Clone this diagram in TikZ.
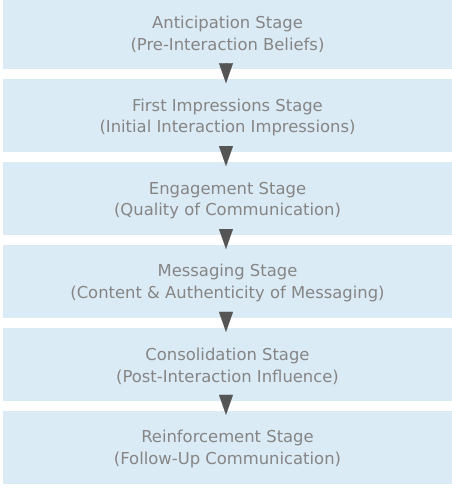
\documentclass[tikz,border=0pt]{standalone}
\usepackage{fontspec}
\setmainfont{DejaVu Sans}
\usetikzlibrary{positioning,arrows.meta}
\definecolor{stagefill}{HTML}{DAEBF6}
\definecolor{stagetext}{HTML}{858585}
\definecolor{arrowgray}{HTML}{555555}
\begin{document}
\begin{tikzpicture}[x=1pt,y=1pt,node distance=10pt,
		stage/.style={fill=stagefill, text=stagetext, minimum width=449pt, minimum height=72.5pt,
			inner sep=0pt, align=center, text height=37.5pt, font=\fontsize{16.4}{21.5}\selectfont},
		flow/.style={draw=arrowgray, line width=0.1pt, -{Triangle[length=20pt,width=14pt]}}]
	\useasboundingbox (0,0) rectangle (452,-488);
	\node[stage] (antic) at (227.5,-32.75) {Anticipation Stage\\(Pre-Interaction Beliefs)};
	\node[stage, below=of antic] (impress) {First Impressions Stage\\(Initial Interaction Impressions)};
	\node[stage, below=of impress] (engage) {Engagement Stage\\(Quality of Communication)};
	\node[stage, below=of engage] (message) {Messaging Stage\\(Content \& Authenticity of Messaging)};
	\node[stage, below=of message] (consol) {Consolidation Stage\\(Post-Interaction Influence)};
	\node[stage, below=of consol] (reinf) {Reinforcement Stage\\(Follow-Up Communication)};
	% triangles between the stages
	\foreach \a/\b in {antic/impress, impress/engage, engage/message, message/consol, consol/reinf}
		\draw[flow] ([xshift=-1.5pt,yshift=6pt]\a.south) -- ([xshift=-1.5pt,yshift=-4pt]\b.north);
\end{tikzpicture}
\end{document}
